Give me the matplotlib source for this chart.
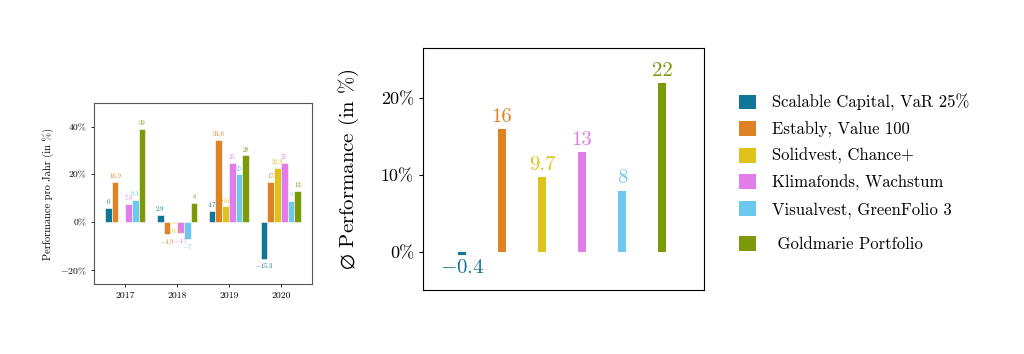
import numpy as np
import matplotlib
matplotlib.use("Agg")
import matplotlib.pyplot as plt
from matplotlib.patches import Patch

plt.rcParams['font.family'] = ['cmr10', 'DejaVu Serif']
plt.rcParams['mathtext.fontset'] = 'cm'
plt.rcParams['axes.formatter.use_mathtext'] = True

# Daten
jahre = ['2017', '2018', '2019', '2020']
namen = ['Scalable Capital, VaR 25%', 'Estably, Value 100', 'Solidvest, Chance+',
         'Klimafonds, Wachstum', 'Visualvest, GreenFolio 3', ' Goldmarie Portfolio']
farben = ['#0f7698', '#dd8326', '#e0c21c', '#e17ce9', '#6cc8ec', '#7a9a0a']
scalable = [6, 2.9, 4.7, -15.3]
estably = [16.9, -4.9, 34.6, 17]
solidvest = [np.nan, -0.4, 6.6, 22.8]
klimafonds = [7.6, -4.7, 25, 25]
visualvest = [9.3, -7, 20, 9]
goldmarie = [39, 8, 28, 13]
jahreswerte = [scalable, estably, solidvest, klimafonds, visualvest, goldmarie]
durchschnitt = [-0.4, 16, 9.7, 13, 8, 22]
durchschnitt_text = ['$-0.4$', '16', '9.7', '13', '8', '22']

fig = plt.figure(figsize=(10.24, 3.54), dpi=100)
ax1 = fig.add_axes([94/1024, 1-284/354, 218/1024, 181/354])
ax2 = fig.add_axes([423/1024, 1-290/354, 281/1024, 242/354])

# linkes Diagramm: pro Jahr
x = np.arange(len(jahre))
b = 0.13
for i, (werte, farbe) in enumerate(zip(jahreswerte, farben)):
    pos = x + (i - 2.5) * b
    ax1.bar(pos, werte, width=b, color=farbe, edgecolor='white', linewidth=0.4)
    for p, w in zip(pos, werte):
        if np.isnan(w):
            continue
        txt = f'{w:g}'.replace('-', '$-$')
        off = 1.2 if w >= 0 else -1.2
        ax1.text(p, w + off, txt, ha='center', va='bottom' if w >= 0 else 'top',
                 fontsize=4.8, color=farbe)
ax1.set_xlim(-0.6, 3.6)
ax1.set_ylim(-26, 50)
ax1.set_xticks(x)
ax1.set_xticklabels(jahre, fontsize=7)
ax1.set_yticks([-20, 0, 20, 40])
ax1.set_yticklabels(['$-20\\%$', '0%', '20%', '40%'], fontsize=7)
ax1.set_ylabel('Performance pro Jahr (in %)', fontsize=7.5)
for s in ax1.spines.values():
    s.set_color('#555555')
    s.set_linewidth(0.8)
ax1.tick_params(length=2, width=0.6)

# rechtes Diagramm: Durchschnitt
x2 = np.arange(len(durchschnitt))
ax2.bar(x2, durchschnitt, width=0.2, color=farben)
for p, w, t, farbe in zip(x2, durchschnitt, durchschnitt_text, farben):
    if w >= 0:
        ax2.text(p, w + 0.4, t, ha='center', va='bottom', fontsize=15, color=farbe)
    else:
        ax2.text(p, w - 0.5, t, ha='center', va='top', fontsize=15, color=farbe)
ax2.set_xlim(-0.97, 6.05)
ax2.set_ylim(-4.9, 26.5)
ax2.set_xticks([])
ax2.set_yticks([0, 10, 20])
ax2.set_yticklabels(['0%', '10%', '20%'], fontsize=13)
ax2.set_ylabel('$\\varnothing$ Performance (in %)', fontsize=15, labelpad=14)
ax2.tick_params(length=3)

handles = [Patch(facecolor=f, edgecolor='none') for f in farben]
fig.legend(handles[:5], namen[:5], loc='upper left', bbox_to_anchor=(724/1024, 1-79/354),
           frameon=False, fontsize=12, handlelength=1.0, handleheight=1.0,
           handletextpad=1.0, labelspacing=0.6)
fig.legend(handles[5:], namen[5:], loc='upper left', bbox_to_anchor=(724/1024, 1-221/354),
           frameon=False, fontsize=12, handlelength=1.0, handleheight=1.0,
           handletextpad=1.0, labelspacing=0.6)

fig.savefig('out.png', dpi=100)
